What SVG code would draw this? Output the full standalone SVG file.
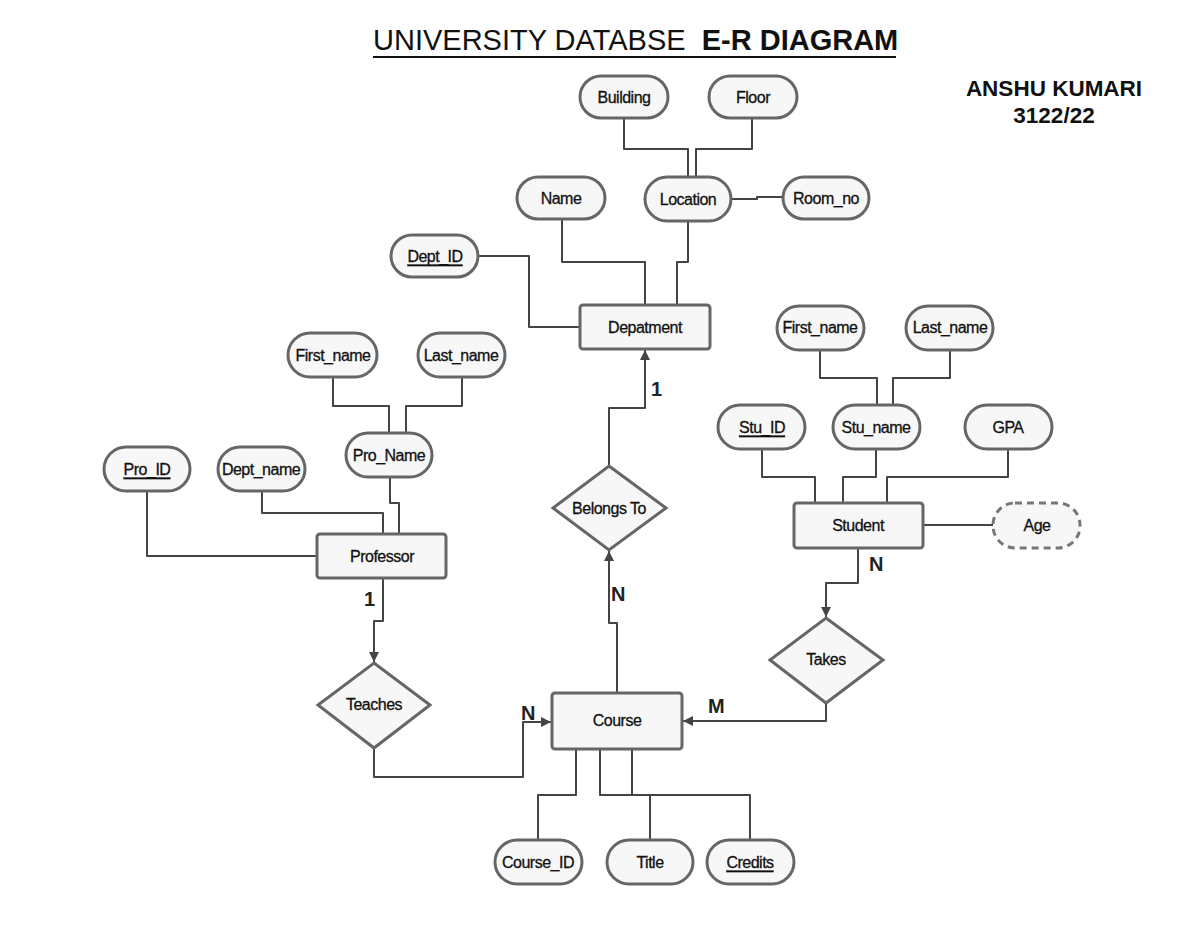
<svg xmlns="http://www.w3.org/2000/svg" width="1200" height="927" viewBox="0 0 1200 927">
<defs>
<style>
.attr{fill:#f7f7f7;stroke:#666;stroke-width:3}
.dash{fill:#f7f7f7;stroke:#777;stroke-width:3;stroke-dasharray:7 5}
.ent{fill:#f7f7f7;stroke:#666;stroke-width:3}
.rel{fill:#f7f7f7;stroke:#666;stroke-width:3}
.t{font-family:"Liberation Sans",Arial,sans-serif;font-size:16px;fill:#111;stroke:#111;stroke-width:0.3;text-anchor:middle;dominant-baseline:central;letter-spacing:-0.5px}
.u{text-decoration:underline}
.card{font-family:"Liberation Sans",Arial,sans-serif;font-size:20px;font-weight:bold;fill:#222}
.c{fill:none;stroke:#444;stroke-width:2;stroke-linejoin:round}
</style>
<marker id="arr" viewBox="0 0 10 10" refX="10" refY="5" markerWidth="10" markerHeight="10" markerUnits="userSpaceOnUse" orient="auto">
<path d="M0,0 L10,5 L0,10 Z" fill="#444"/>
</marker>
</defs>
<rect width="1200" height="927" fill="#fff"/>
<g id="title">
<text x="373" y="50" font-family="Liberation Sans,Arial,sans-serif" font-size="29" fill="#111">UNIVERSITY DATABSE <tspan font-weight="bold" dx="8">E-R DIAGRAM</tspan></text>
<line x1="373" y1="57" x2="896" y2="57" stroke="#111" stroke-width="2"/>
</g>
<g id="author" font-family="Liberation Sans,Arial,sans-serif" font-size="22.5" font-weight="bold" fill="#111" text-anchor="middle">
<text x="1054" y="96">ANSHU KUMARI</text>
<text x="1054" y="123">3122/22</text>
</g>
<g id="connectors">
<path class="c" d="M624,118 V149 H688 V177"/>
<path class="c" d="M752,118 V149 H696 V177"/>
<path class="c" d="M731,199 H757 V197 H783"/>
<path class="c" d="M562,219 V262 H645 V305"/>
<path class="c" d="M688,221 V262 H677 V305"/>
<path class="c" d="M478,256 H529 V327 H580"/>
<path class="c" d="M609,466 V408 H645 V350" marker-end="url(#arr)"/>
<path class="c" d="M617,693 V623 H609 V551" marker-end="url(#arr)"/>
<path class="c" d="M383,578 V621 H374 V662" marker-end="url(#arr)"/>
<path class="c" d="M374,748 V777 H523 V722 H551" marker-end="url(#arr)"/>
<path class="c" d="M858,548 V583 H826 V617" marker-end="url(#arr)"/>
<path class="c" d="M826,703 V721 H683" marker-end="url(#arr)"/>
<path class="c" d="M923,525 H993"/>
<path class="c" d="M762,449 V477 H815 V503"/>
<path class="c" d="M876,449 V477 H843 V503"/>
<path class="c" d="M1008,449 V477 H887 V503"/>
<path class="c" d="M820,350 V378 H877 V405"/>
<path class="c" d="M950,350 V378 H893 V405"/>
<path class="c" d="M333,377 V406 H389 V433"/>
<path class="c" d="M462,377 V406 H406 V433"/>
<path class="c" d="M390,477 V503 H399 V534"/>
<path class="c" d="M262,491 V513 H383 V534"/>
<path class="c" d="M147,491 V556 H317"/>
<path class="c" d="M576,749 V795 H538 V840"/>
<path class="c" d="M600,749 V795 H650 V840"/>
<path class="c" d="M632,749 V795 H750 V840"/>
</g>
<g id="cardinalities">
<text class="card" x="651" y="396">1</text>
<text class="card" x="611" y="601">N</text>
<text class="card" x="364" y="606">1</text>
<text class="card" x="521" y="720">N</text>
<text class="card" x="869" y="571">N</text>
<text class="card" x="708" y="713">M</text>
</g>
<g id="Building"><rect class="attr" x="580" y="76" width="88" height="42" rx="21"/><text class="t" x="624" y="97">Building</text></g>
<g id="Floor"><rect class="attr" x="709" y="76" width="88" height="42" rx="21"/><text class="t" x="753" y="97">Floor</text></g>
<g id="Name"><rect class="attr" x="517" y="177" width="88" height="42" rx="21"/><text class="t" x="561" y="198">Name</text></g>
<g id="Location"><rect class="attr" x="645" y="177" width="86" height="44" rx="22"/><text class="t" x="688" y="199">Location</text></g>
<g id="Room_no"><rect class="attr" x="783" y="177" width="86" height="42" rx="21"/><text class="t" x="826" y="198">Room_no</text></g>
<g id="Dept_ID"><rect class="attr" x="391" y="235" width="87" height="42" rx="21"/><text class="t u" x="435" y="256">Dept_ID</text></g>
<g id="Department"><rect class="ent" x="580" y="305" width="130" height="44" rx="3"/><text class="t" x="645" y="327">Depatment</text></g>
<g id="Prof_First_name"><rect class="attr" x="288" y="333" width="89" height="44" rx="22"/><text class="t" x="333" y="355">First_name</text></g>
<g id="Prof_Last_name"><rect class="attr" x="418" y="333" width="87" height="44" rx="22"/><text class="t" x="461" y="355">Last_name</text></g>
<g id="Pro_Name"><rect class="attr" x="346" y="433" width="86" height="44" rx="22"/><text class="t" x="389" y="455">Pro_Name</text></g>
<g id="Pro_ID"><rect class="attr" x="104" y="447" width="86" height="44" rx="22"/><text class="t u" x="147" y="469">Pro_ID</text></g>
<g id="Dept_name"><rect class="attr" x="218" y="447" width="87" height="44" rx="22"/><text class="t" x="261" y="469">Dept_name</text></g>
<g id="Professor"><rect class="ent" x="317" y="534" width="129" height="44" rx="3"/><text class="t" x="382" y="556">Professor</text></g>
<g id="Stu_First_name"><rect class="attr" x="777" y="306" width="87" height="44" rx="22"/><text class="t" x="820" y="327">First_name</text></g>
<g id="Stu_Last_name"><rect class="attr" x="906" y="306" width="87" height="44" rx="22"/><text class="t" x="950" y="327">Last_name</text></g>
<g id="Stu_ID"><rect class="attr" x="718" y="405" width="87" height="44" rx="22"/><text class="t u" x="762" y="427">Stu_ID</text></g>
<g id="Stu_name"><rect class="attr" x="833" y="405" width="87" height="44" rx="22"/><text class="t" x="876" y="427">Stu_name</text></g>
<g id="GPA"><rect class="attr" x="965" y="405" width="87" height="44" rx="22"/><text class="t" x="1008" y="427">GPA</text></g>
<g id="Student"><rect class="ent" x="794" y="503" width="129" height="45" rx="3"/><text class="t" x="858" y="525">Student</text></g>
<g id="Age"><rect class="dash" x="993" y="503" width="87" height="45" rx="22"/><text class="t" x="1037" y="525">Age</text></g>
<g id="Belongs_To"><polygon class="rel" points="609,466 666,508 609,550 553,508"/><text class="t" x="609" y="508">Belongs To</text></g>
<g id="Teaches"><polygon class="rel" points="374,663 430,705 374,748 318,705"/><text class="t" x="374" y="704">Teaches</text></g>
<g id="Takes"><polygon class="rel" points="826,618 883,660 826,703 770,660"/><text class="t" x="826" y="659">Takes</text></g>
<g id="Course"><rect class="ent" x="552" y="693" width="130" height="56" rx="3"/><text class="t" x="617" y="720">Course</text></g>
<g id="Course_ID"><rect class="attr" x="495" y="840" width="87" height="44" rx="22"/><text class="t" x="538" y="862">Course_ID</text></g>
<g id="Title"><rect class="attr" x="607" y="840" width="86" height="44" rx="22"/><text class="t" x="650" y="862">Title</text></g>
<g id="Credits"><rect class="attr" x="707" y="840" width="87" height="44" rx="22"/><text class="t u" x="750" y="862">Credits</text></g>
</svg>
